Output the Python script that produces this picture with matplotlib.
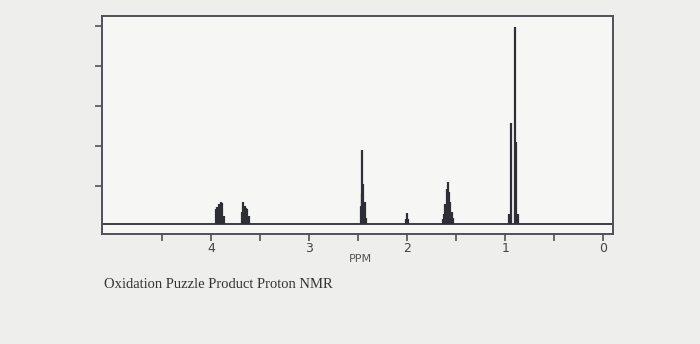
import matplotlib
matplotlib.use("Agg")
import matplotlib.pyplot as plt

# peak lines: chemical shift (ppm) and height (arbitrary units)
quartet_a_ppm = [3.949, 3.934, 3.918, 3.903, 3.888, 3.872]
quartet_a_h = [15, 17, 20, 22, 21, 8]
quartet_b_ppm = [3.689, 3.673, 3.658, 3.643, 3.628, 3.612]
quartet_b_h = [12, 22, 18, 16, 15, 8]
triplet_c_ppm = [2.474, 2.464, 2.456, 2.446, 2.434, 2.418]
triplet_c_h = [18, 30, 74, 40, 22, 6]
single_d_ppm = [2.015, 2.005, 1.995]
single_d_h = [5, 11, 5]
multi_e_ppm = [1.633, 1.622, 1.612, 1.597, 1.585, 1.571, 1.561, 1.546, 1.536]
multi_e_h = [5, 10, 20, 35, 42, 32, 22, 12, 6]
triplet_f_ppm = [0.959, 0.939, 0.900, 0.885, 0.867]
triplet_f_h = [10, 101, 197, 82, 10]

major_ticks = [0, 1, 2, 3, 4]
major_labels = ["0", "1", "2", "3", "4"]
minor_ticks = [0.5, 1.5, 2.5, 3.5, 4.5]
y_ticks = [38, 78, 118, 158, 198]

fig = plt.figure(figsize=(7, 3.44), dpi=100, facecolor="#eeeeec")
ax = fig.add_axes([0.146, 0.320, 0.730, 0.634], facecolor="#f6f6f5")

line_col = "#2e2e36"
ax.axhline(0, color=line_col, lw=1.3)
for xs, hs in [(quartet_a_ppm, quartet_a_h), (quartet_b_ppm, quartet_b_h),
               (triplet_c_ppm, triplet_c_h), (single_d_ppm, single_d_h),
               (multi_e_ppm, multi_e_h), (triplet_f_ppm, triplet_f_h)]:
    ax.vlines(xs, 0, hs, color=line_col, lw=1.6)

ax.set_xlim(5.11, -0.102)
ax.set_ylim(-10, 208)

for s in ax.spines.values():
    s.set_color("#50505a")
    s.set_linewidth(1.4)

ax.set_xticks(major_ticks)
ax.set_xticklabels(major_labels)
ax.set_xticks(minor_ticks, minor=True)
ax.tick_params(axis="x", which="both", direction="out", length=5, width=1.2,
               color="#50505a", labelsize=9, labelcolor="#444444", pad=1)
ax.set_yticks(y_ticks)
ax.set_yticklabels([])
ax.tick_params(axis="y", direction="out", length=5, width=1.2, color="#50505a")

fig.text(360 / 700, 1 - 259 / 344, "PPM", ha="center", va="center",
         fontsize=8, color="#555555")
fig.text(104 / 700, 1 - 284 / 344, "Oxidation Puzzle Product Proton NMR",
         ha="left", va="center", fontsize=10.5, color="#333333",
         family="Liberation Serif")

fig.savefig("out.png", dpi=100, facecolor=fig.get_facecolor())
